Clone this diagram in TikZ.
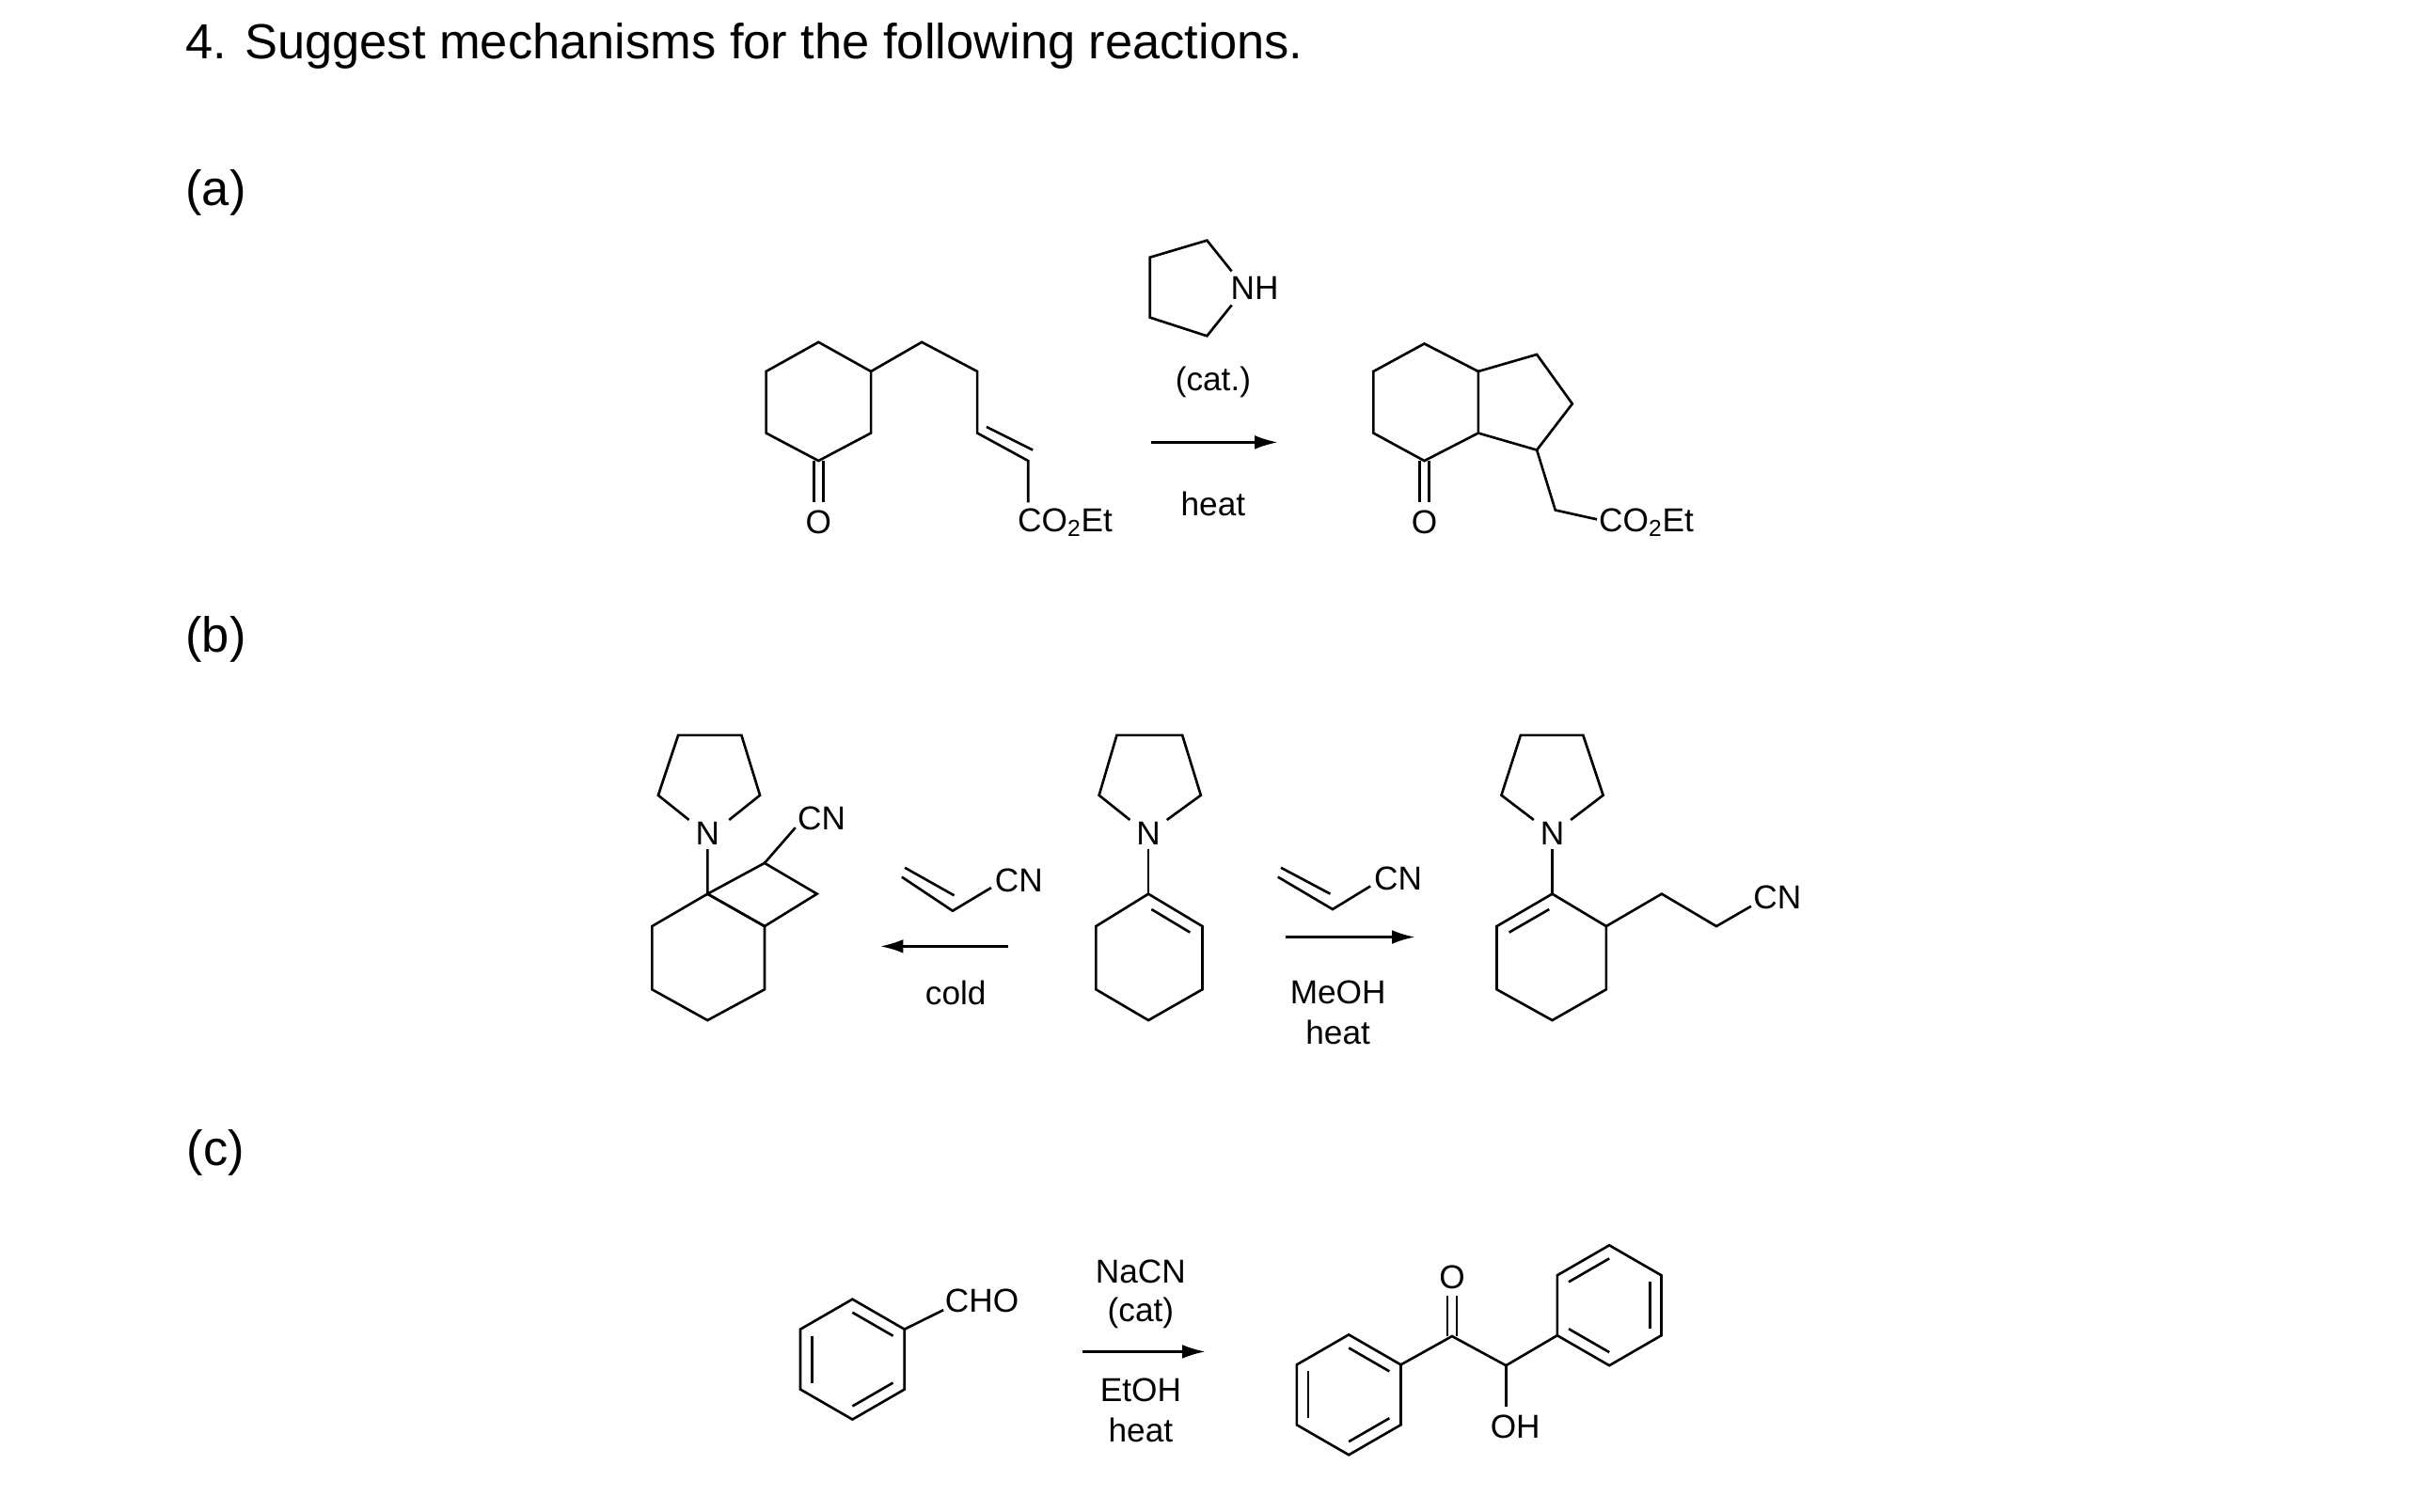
\documentclass[tikz,border=0pt]{standalone}
\usepackage{fontspec}
\setmainfont{Liberation Sans}
\usetikzlibrary{calc,arrows.meta}
\tikzset{bond/.style={line width=1.6pt,line join=miter},
  lab/.style={font=\fontsize{21.5}{23}\selectfont,inner sep=0pt},
  rxn/.style={line width=1.6pt,-{Latex[length=15pt,width=9pt]}}}
\newcommand{\benz}[4]{% center x, y, radius, name
  \foreach \k in {0,...,5}{\coordinate (#4\k) at ($(#1,#2)+({90+60*\k}:#3 and -#3)$);}
  \coordinate (#4c) at (#1,#2);
  \draw[bond] (#40)--(#41)--(#42)--(#43)--(#44)--(#45)--cycle;}
\newcommand{\inner}[3]{\draw[bond] ($(#3)!0.78!(#1)$)--($(#3)!0.78!(#2)$);}
\begin{document}
\begin{tikzpicture}[x=1pt,y=-1pt]
\useasboundingbox (0,0) rectangle (1568,981);
\fill[white] (0,0) rectangle (1568,981);
\node[anchor=west,inner sep=0pt,font=\fontsize{32}{35}\selectfont] (title) at (120,30) {4. Suggest mechanisms for the following reactions.};
\node[inner sep=0pt,font=\fontsize{32}{35}\selectfont] (la) at (140,125) {(a)};
\node[inner sep=0pt,font=\fontsize{32}{35}\selectfont] (lb) at (140,415) {(b)};
\node[inner sep=0pt,font=\fontsize{32}{35}\selectfont] (lc) at (140,748) {(c)};
% ---- (a) reactant
\draw[bond] (531,222)--(565,241)--(565,281)--(531,299)--(497,281)--(497,241)--cycle;
\draw[bond] (565,241)--(598,222)--(634,241)--(634,281)--(667,299)--(667,326);
\draw[bond] (640,277)--(670,292);
\draw[bond] (528,299)--(528,326) (534,299)--(534,326);
\node[lab] (Oa) at (531,339) {O};
\node[lab] (ea) at (691,339) {CO\textsubscript{2}Et};
% pyrrolidine NH
\draw[bond] (799,176)--(783,156)--(746,167)--(746,206)--(783,218)--(799,198);
\node[lab] (NH) at (814,187) {NH};
\node[lab] (cat) at (787,248) {(cat.)};
\node[lab] (heat1) at (787,327) {heat};
\coordinate (a1) at (747,287); \coordinate (a2) at (829,287);
\draw[rxn] (a1)--(a2);
% (a) product
\draw[bond] (924,223)--(959,241)--(959,281)--(924,299)--(891,281)--(891,241)--cycle;
\draw[bond] (959,241)--(997,230)--(1020,262)--(997,292)--(959,281);
\draw[bond] (997,292)--(1009,331)--(1036,337);
\draw[bond] (921,299)--(921,326) (927,299)--(927,326);
\node[lab] (Ob) at (924,339) {O};
\node[lab] (eb) at (1068,339) {CO\textsubscript{2}Et};
% ---- (b) left
\draw[bond] (447,532)--(427,516)--(440,477)--(481,477)--(493,516)--(473,532);
\node[lab] (N1) at (459,541) {N};
\draw[bond] (459,551)--(459,580)--(496,560)--(530,580)--(496,601)--(459,580);
\draw[bond] (496,560)--(516,537);
\node[lab] (CN1) at (533,531) {CN};
\draw[bond] (459,580)--(496,601)--(496,642)--(459,662)--(423,642)--(423,601)--cycle;
\draw[bond] (585,569)--(618,591)--(643,576);
\draw[bond] (587,563)--(619,581);
\node[lab] (CN2) at (661,571) {CN};
\coordinate (b1) at (654,614); \coordinate (b2) at (571,614);
\draw[rxn] (b1)--(b2);
\node[lab] (cold) at (620,644) {cold};
% center enamine
\draw[bond] (733,532)--(713,516)--(724.5,477)--(767,477)--(779,516)--(757,532);
\node[lab] (N2) at (745,541) {N};
\draw[bond] (745,551)--(745,580);
\draw[bond] (745,580)--(780,601)--(780,642)--(745,662)--(711,642)--(711,601)--cycle;
\draw[bond] (747,590)--(772,605);
\draw[bond] (829,569)--(864.5,590)--(889,575);
\draw[bond] (831,563)--(863,580);
\node[lab] (CN3) at (907,570) {CN};
\coordinate (c1) at (834,608); \coordinate (c2) at (918,608);
\draw[rxn] (c1)--(c2);
\node[lab] (meoh) at (868,644) {MeOH};
\node[lab] (heat2) at (868,670) {heat};
% right product
\draw[bond] (995,532)--(974,516)--(986.5,477)--(1027,477)--(1040,516)--(1019,532);
\node[lab] (N3) at (1007,541) {N};
\draw[bond] (1007,551)--(1007,580);
\draw[bond] (1007,580)--(1042,601)--(1042,642)--(1007,662)--(971,642)--(971,601)--cycle;
\draw[bond] (1005,590)--(979,605);
\draw[bond] (1042,601)--(1078,580)--(1113.5,601)--(1136,588);
\node[lab] (CN4) at (1153,582) {CN};
% ---- (c)
\benz{553}{882}{39}{p}
\inner{p0}{p5}{pc}\inner{p1}{p2}{pc}\inner{p3}{p4}{pc}
\draw[bond] (p5)--(612,850);
\node[lab] (cho) at (637,844) {CHO};
\node[lab] (nacn) at (740,825) {NaCN};
\node[lab] (cat2) at (740,852) {(cat)};
\node[lab] (etoh) at (740,902) {EtOH};
\node[lab] (heat3) at (740,928) {heat};
\coordinate (d1) at (702,877); \coordinate (d2) at (782,877);
\draw[rxn] (d1)--(d2);
\benz{875}{905}{39}{q}
\inner{q0}{q5}{qc}\inner{q1}{q2}{qc}\inner{q3}{q4}{qc}
\draw[bond] (q5)--(942,867)--(977,886);
\benz{1044}{847}{39}{r}
\inner{r0}{r1}{rc}\inner{r5}{r4}{rc}\inner{r3}{r2}{rc}
\draw[bond] (977,886)--(r2);
\draw[bond] (939,867)--(939,841) (945,867)--(945,841);
\node[lab] (O3) at (942,829) {O};
\draw[bond] (977,886)--(977,913);
\node[lab] (OH) at (983,926) {OH};
\end{tikzpicture}
\end{document}
